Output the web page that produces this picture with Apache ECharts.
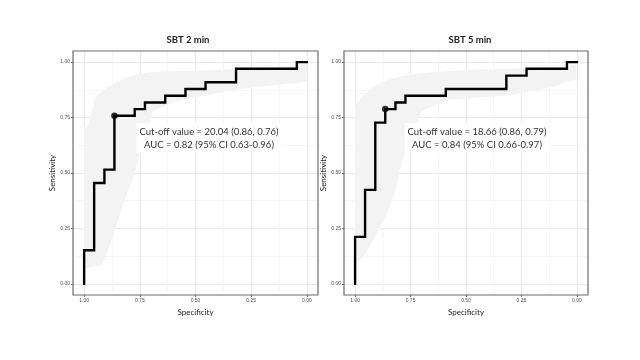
<!DOCTYPE html>
<html>
<head>
<meta charset="utf-8">
<script src="https://cdn.jsdelivr.net/npm/echarts@6/dist/echarts.min.js"></script>
<style>html,body{margin:0;padding:0;background:#fff}#c{width:640px;height:360px}</style>
</head>
<body>
<div id="c"></div>
<script>
// ---- data ----
const panelTitles = ['SBT 2 min', 'SBT 5 min'];
const majorTicks = [1.00, 0.75, 0.50, 0.25, 0.00];
const minorTicks = [0.875, 0.625, 0.375, 0.125];

// ROC path, left panel (specificity, sensitivity)
const roc2Spec = [1.000, 1.000, 0.955, 0.955, 0.909, 0.909, 0.864, 0.864, 0.773, 0.773, 0.727, 0.727, 0.636, 0.636, 0.545, 0.545, 0.455, 0.455, 0.318, 0.318, 0.045, 0.045, 0.000];
const roc2Sens = [0.000, 0.152, 0.152, 0.455, 0.455, 0.515, 0.515, 0.758, 0.758, 0.788, 0.788, 0.818, 0.818, 0.848, 0.848, 0.879, 0.879, 0.909, 0.909, 0.970, 0.970, 1.000, 1.000];
// ROC path, right panel
const roc5Spec = [1.000, 1.000, 0.955, 0.955, 0.909, 0.909, 0.864, 0.864, 0.818, 0.818, 0.773, 0.773, 0.591, 0.591, 0.318, 0.318, 0.227, 0.227, 0.045, 0.045, 0.000];
const roc5Sens = [0.000, 0.212, 0.212, 0.424, 0.424, 0.727, 0.727, 0.788, 0.788, 0.818, 0.818, 0.848, 0.848, 0.879, 0.879, 0.939, 0.939, 0.970, 0.970, 1.000, 1.000];

// cut-off points
const cut2 = [0.864, 0.758];
const cut5 = [0.864, 0.788];

// confidence band (sensitivity CI at given specificity)
const ci2Spec  = [1.00, 0.98, 0.95, 0.92, 0.89, 0.87, 0.81, 0.78, 0.76, 0.69, 0.60, 0.50, 0.40, 0.30, 0.20, 0.10, 0.00];
const ci2Low   = [0.07, 0.075, 0.08, 0.085, 0.16, 0.22, 0.40, 0.48, 0.55, 0.78, 0.82, 0.84, 0.86, 0.88, 0.89, 0.90, 0.91];
const ci2High  = [0.70, 0.72, 0.84, 0.87, 0.89, 0.90, 0.93, 0.94, 0.945, 0.955, 0.96, 0.96, 0.965, 0.97, 0.975, 0.98, 0.99];

const ci5Spec  = [1.00, 0.99, 0.95, 0.93, 0.88, 0.85, 0.81, 0.80, 0.77, 0.70, 0.58, 0.45, 0.30, 0.20, 0.10, 0.05, 0.00];
const ci5Low   = [0.09, 0.095, 0.14, 0.18, 0.27, 0.33, 0.45, 0.51, 0.60, 0.78, 0.83, 0.84, 0.85, 0.87, 0.89, 0.91, 0.92];
const ci5High  = [0.80, 0.82, 0.86, 0.88, 0.91, 0.92, 0.93, 0.935, 0.94, 0.95, 0.96, 0.965, 0.97, 0.975, 0.98, 0.98, 0.99];

const annot2 = ['Cut-off value = 20.04 (0.86, 0.76)', 'AUC = 0.82 (95% CI 0.63-0.96)'];
const annot5 = ['Cut-off value = 18.66 (0.86, 0.79)', 'AUC = 0.84 (95% CI 0.66-0.97)'];

// ---- chart ----
const chart = echarts.init(document.getElementById('c'), null, {renderer: 'canvas'});
const FONT = 'Lato, "Open Sans", sans-serif';
const grids = [
  {left: 73, top: 51, width: 245, height: 244},
  {left: 344, top: 51, width: 244, height: 244}
];
function pairs(a, b) { return a.map((v, i) => [v, b[i]]); }
function mainAxis(gi, isX) {
  const ax = {
    type: 'value', gridIndex: gi, min: -0.05, max: 1.05,
    inverse: isX,
    position: isX ? 'bottom' : 'left',
    axisLine: {show: false, onZero: false},
    axisTick: {show: true, length: 2, customValues: majorTicks, lineStyle: {color: '#444', width: 0.8}},
    axisLabel: {show: true, customValues: majorTicks, fontSize: 5, color: '#4d4d4d', fontFamily: 'Liberation Sans Narrow, Liberation Sans, sans-serif', margin: 3, formatter: v => v.toFixed(2)},
    splitLine: {show: true, lineStyle: {color: '#e4e4e4', width: 0.8}},
    name: isX ? 'Specificity' : 'Sensitivity',
    nameLocation: 'middle',
    nameGap: isX ? 13 : 14,
    nameTextStyle: {fontSize: 8, color: '#222', fontFamily: FONT}
  };
  if (!isX) ax.nameRotate = 90;
  return ax;
}
function minorAxis(gi, isX) {
  return {
    type: 'value', gridIndex: gi, min: -0.05, max: 1.05, inverse: isX,
    position: isX ? 'bottom' : 'left',
    axisLine: {show: false, onZero: false},
    axisTick: {show: false, customValues: minorTicks},
    axisLabel: {show: false, customValues: minorTicks},
    splitLine: {show: true, lineStyle: {color: '#f0f0f0', width: 0.6}}
  };
}
function bandSeries(gi, spec, low, high) {
  return {
    type: 'custom', xAxisIndex: gi * 2, yAxisIndex: gi * 2, silent: true, z: 1,
    data: [0],
    renderItem: function (params, api) {
      const pts = [];
      for (let i = 0; i < spec.length; i++) pts.push(api.coord([spec[i], high[i]]));
      for (let i = spec.length - 1; i >= 0; i--) pts.push(api.coord([spec[i], low[i]]));
      return {type: 'polygon', shape: {points: pts}, style: {fill: '#f3f3f3', stroke: null}};
    }
  };
}
function rocSeries(gi, spec, sens) {
  return {
    type: 'line', xAxisIndex: gi * 2, yAxisIndex: gi * 2, data: pairs(spec, sens),
    showSymbol: false, symbol: 'none', z: 3, silent: true, animation: false,
    lineStyle: {color: '#000', width: 2.4, join: 'miter', cap: 'square'}
  };
}
function cutSeries(gi, pt) {
  return {
    type: 'scatter', xAxisIndex: gi * 2, yAxisIndex: gi * 2, data: [pt], z: 4,
    symbol: 'circle', symbolSize: 6.5, itemStyle: {color: '#000'}, silent: true
  };
}
function annotText(cx, lines) {
  return {
    type: 'text', x: cx, y: 138, z: 10,
    style: {
      text: lines.join('\n'), align: 'center', verticalAlign: 'middle',
      font: '9.5px ' + FONT, fill: '#333', lineHeight: 13,
      backgroundColor: '#fff', padding: [2, 3]
    }
  };
}
const option = {
  animation: false,
  backgroundColor: '#fff',
  grid: grids.map(g => Object.assign({show: true, borderColor: '#6b6b6b', borderWidth: 1.2, backgroundColor: 'transparent', z: 5}, g)),
  xAxis: [mainAxis(0, true), minorAxis(0, true), mainAxis(1, true), minorAxis(1, true)],
  yAxis: [mainAxis(0, false), minorAxis(0, false), mainAxis(1, false), minorAxis(1, false)],
  series: [
    bandSeries(0, ci2Spec, ci2Low, ci2High),
    bandSeries(1, ci5Spec, ci5Low, ci5High),
    rocSeries(0, roc2Spec, roc2Sens),
    rocSeries(1, roc5Spec, roc5Sens),
    cutSeries(0, cut2),
    cutSeries(1, cut5)
  ],
  graphic: [
    {type: 'text', x: 188, y: 40, style: {text: panelTitles[0], align: 'center', verticalAlign: 'middle', font: 'bold 9.5px ' + FONT, fill: '#222'}},
    {type: 'text', x: 470, y: 40, style: {text: panelTitles[1], align: 'center', verticalAlign: 'middle', font: 'bold 9.5px ' + FONT, fill: '#222'}},
    annotText(209, annot2),
    annotText(477, annot5)
  ]
};
chart.setOption(option);
</script>
</body>
</html>
